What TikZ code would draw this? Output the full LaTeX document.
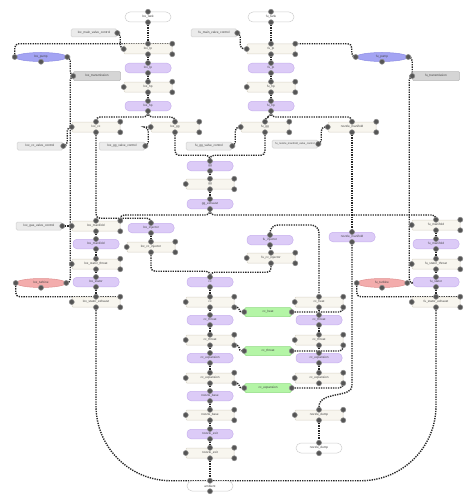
\documentclass[tikz,border=0pt]{standalone}
\usepackage{fontspec}
\setmainfont{Liberation Sans}
\usetikzlibrary{shapes.geometric,calc}
\pgfdeclarelayer{bg}
\pgfsetlayers{bg,main}
\definecolor{jfill}{HTML}{F8F6EF}
\definecolor{jdraw}{HTML}{D9D5C8}
\definecolor{pfill}{HTML}{DCCBF7}
\definecolor{pdraw}{HTML}{C7B0EE}
\definecolor{tdraw}{HTML}{CFCFCF}
\definecolor{vfill}{HTML}{EBEBEB}
\definecolor{vdraw}{HTML}{D0D0D0}
\definecolor{xfill}{HTML}{D5D5D5}
\definecolor{xdraw}{HTML}{BBBBBB}
\definecolor{pumpfill}{HTML}{A4A4F3}
\definecolor{pumpdraw}{HTML}{8C8CE4}
\definecolor{turbfill}{HTML}{F3ACAC}
\definecolor{turbdraw}{HTML}{E09090}
\definecolor{hfill}{HTML}{B4F5A6}
\definecolor{hdraw}{HTML}{90DC82}
\definecolor{portfill}{HTML}{555555}
\definecolor{portdraw}{HTML}{8A8A8A}
\tikzset{
 base/.style={inner sep=0pt, font=\fontsize{3.1}{3.5}\selectfont, text=black!75, line width=0.5pt},
 jbox/.style={base, rectangle, rounded corners=1pt, minimum width=48pt, minimum height=10pt, fill=jfill, draw=jdraw},
 pbox/.style={base, rectangle, rounded corners=4pt, minimum width=46pt, minimum height=9.5pt, fill=pfill, draw=pdraw},
 tbox/.style={base, rectangle, rounded corners=5pt, minimum width=46pt, minimum height=10pt, fill=white, draw=tdraw},
 vbox/.style={base, rectangle, rounded corners=1.5pt, minimum width=46pt, minimum height=8pt, fill=vfill, draw=vdraw},
 xbox/.style={base, rectangle, rounded corners=1pt, minimum width=47pt, minimum height=9pt, fill=xfill, draw=xdraw},
 pumpbox/.style={base, ellipse, minimum width=52pt, minimum height=9pt, fill=pumpfill, draw=pumpdraw},
 turbbox/.style={base, ellipse, minimum width=50pt, minimum height=9pt, fill=turbfill, draw=turbdraw},
 hbox/.style={base, rectangle, rounded corners=1.5pt, minimum width=47pt, minimum height=9pt, fill=hfill, draw=hdraw},
 port/.style={circle, inner sep=0pt, minimum size=5pt, fill=portfill, draw=portdraw, line width=0.6pt},
 wire/.style={line width=1.4pt, dash pattern=on 1.3pt off 1.1pt, rounded corners=4pt, draw=black!85},
}
\newcommand\myports[2]{\foreach \a/\s in {#2} {\node[port] (#1-\s) at (#1.\a) {};}}
\newcommand\Jn[4]{\node[jbox] (#1) at (#2,#3) {#4};\myports{#1}{north/n,north east/ne,west/w,south/s,south east/se}}
\newcommand\Pn[4]{\node[pbox] (#1) at (#2,#3) {#4};\myports{#1}{north/n,south/s}}
\newcommand\Tn[4]{\node[tbox] (#1) at (#2,#3) {#4};\myports{#1}{north/n,south/s}}
\newcommand\Vn[4]{\node[vbox] (#1) at (#2,#3) {#4};\myports{#1}{east/e}}
\newcommand\Xn[4]{\node[xbox] (#1) at (#2,#3) {#4};\myports{#1}{west/w}}
\newcommand\Hn[4]{\node[hbox] (#1) at (#2,#3) {#4};\myports{#1}{west/w,east/e}}
\begin{document}
\begin{tikzpicture}[x=1pt,y=-1pt]
\begin{pgfonlayer}{bg}
\fill[white] (0,0) rectangle (474,503);
\end{pgfonlayer}
\useasboundingbox (0,0) rectangle (474,503);
% terminals
\Tn{loxtank}{148}{17}{lox\_tank}
\Tn{futank}{271}{17}{fu\_tank}
\Tn{ambient}{210}{486}{ambient}
\Tn{dumpout}{319}{448}{nozzle\_dump}
% valve controls
\Vn{loxmvc}{94}{33}{lox\_main\_valve\_control}
\Vn{fumvc}{214}{33}{fu\_main\_valve\_control}
\Vn{loxccvc}{40}{146}{lox\_cc\_valve\_control}
\Vn{loxggvc}{122}{146}{lox\_gg\_valve\_control}
\Vn{fuggvc}{209}{146}{fu\_gg\_valve\_control}
\node[vbox, font=\fontsize{2.6}{3}\selectfont] (funmvc) at (295,144) {fu\_nozzle\_manifold\_valve\_control};
\myports{funmvc}{east/e}
\Vn{loxgasvc}{39}{226}{lox\_gas\_valve\_control}
% transmissions
\Xn{loxtrans}{97}{76}{lox\_transmission}
\Xn{futrans}{436}{76}{fu\_transmission}
% pumps and turbines
\node[pumpbox] (loxpump) at (41,57) {lox\_pump}; \myports{loxpump}{west/w,east/e,south/s}
\node[pumpbox] (fupump) at (382,57) {fu\_pump}; \myports{fupump}{west/w,east/e,south/s}
\node[turbbox] (loxturb) at (41,283) {lox\_turbine}; \myports{loxturb}{west/w,east/e,south/s}
\node[turbbox] (futurb) at (382,283) {fu\_turbine}; \myports{futurb}{west/w,east/e,south/s}
% feed columns
\Jn{loxlpj}{148}{49}{lox\_lp}
\Pn{loxlpv}{148}{68}{lox\_lp}
\Jn{loxhpj}{148}{87}{lox\_hp}
\Pn{loxhpv}{148}{106}{lox\_hp}
\Jn{fulpj}{271}{49}{fu\_lp}
\Pn{fulpv}{271}{68}{fu\_lp}
\Jn{fuhpj}{271}{87}{fu\_hp}
\Pn{fuhpv}{271}{106}{fu\_hp}
\Jn{loxccj}{96}{127}{lox\_cc}
\Jn{loxggj}{175}{127}{lox\_gg}
\Jn{fuggj}{265}{127}{fu\_gg}
\Jn{nmj}{352}{127}{nozzle\_manifold}
% gas generator
\Pn{ggv}{210}{166}{gg}
\Jn{ggj}{210}{184}{gg}
\Pn{ggex}{210}{204}{gg\_exhaust}
% lox turbine column
\Jn{loxmanj}{96}{226}{lox\_manifold}
\Pn{loxmanv}{96}{244}{lox\_manifold}
\Jn{loxstj}{96}{264}{lox\_stator\_throat}
\Pn{loxstv}{96}{282}{lox\_stator}
\Jn{loxsej}{96}{302}{lox\_stator\_exhaust}
% fu turbine column
\Jn{fumanj}{436}{225}{fu\_manifold}
\Pn{fumanv}{436}{244}{fu\_manifold}
\Jn{fustj}{436}{264}{fu\_stator\_throat}
\Pn{fustv}{436}{282}{fu\_stator}
\Jn{fusej}{436}{302}{fu\_stator\_exhaust}
% injectors
\Pn{loxinjv}{151}{228}{lox\_injector}
\Jn{loxinjj}{151}{247}{lox\_cc\_injector}
\Pn{fuinjv}{270}{240}{fu\_injector}
\Jn{fuinjj}{271}{258}{fu\_cc\_injector}
\Pn{nmv}{352}{237}{nozzle\_manifold}
% chamber chain
\Pn{ccv}{210}{282}{cc}
\Jn{ccj}{210}{302}{cc}
\Pn{ccthv}{210}{320}{cc\_throat}
\Jn{ccthj}{210}{340}{cc\_throat}
\Pn{ccexv}{210}{358}{cc\_expansion}
\Jn{ccexj}{210}{378}{cc\_expansion}
\Pn{nbv}{210}{396}{nozzle\_base}
\Jn{nbj}{210}{415}{nozzle\_base}
\Pn{nev}{210}{434}{nozzle\_exit}
\Jn{nej}{210}{453}{nozzle\_exit}
% cooling chain
\Jn{rcja}{319}{302}{cc\_heat}
\Pn{rcva}{319}{320}{cc\_throat}
\Jn{rcjb}{319}{340}{cc\_throat}
\Pn{rcvb}{319}{358}{cc\_expansion}
\Jn{rcjc}{319}{378}{cc\_expansion}
\Jn{ndj}{319}{415}{nozzle\_dump}
% heat links
\Hn{ha}{268}{312}{cc\_heat}
\Hn{hb}{268}{351}{cc\_throat}
\Hn{hc}{268}{388}{cc\_expansion}
\begin{pgfonlayer}{bg}
\draw[wire] (loxtank-s) -- (loxlpj-n);
\draw[wire] (futank-s) -- (fulpj-n);
\draw[wire] (loxmvc-e) -- ++(3,0) |- (loxlpj-w);
\draw[wire] (fumvc-e) -- ++(3,0) |- (fulpj-w);
\draw[wire] (loxpump-w) |- (loxlpj-ne);
\draw[wire] (fupump-w) -- ++(-4,0) |- (fulpj-ne);
\draw[wire] (loxpump-e) -- ++(3,0) |- (loxtrans-w);
\draw[wire] (loxtrans-w) -- ++(-3,0) |- (loxturb-e);
\draw[wire] (fupump-e) -- ++(4,0) |- (futrans-w);
\draw[wire] (futrans-w) -- ++(-3,0) |- (futurb-e);
\foreach \u/\v in {loxlpj/loxlpv,loxlpv/loxhpj,loxhpj/loxhpv,fulpj/fulpv,fulpv/fuhpj,fuhpj/fuhpv,
  ggv/ggj,ggj/ggex,loxmanj/loxmanv,loxmanv/loxstj,loxstj/loxstv,loxstv/loxsej,
  fumanj/fumanv,fumanv/fustj,fustj/fustv,fustv/fusej,loxinjv/loxinjj,fuinjv/fuinjj,
  ccv/ccj,ccj/ccthv,ccthv/ccthj,ccthj/ccexv,ccexv/ccexj,ccexj/nbv,nbv/nbj,nbj/nev,nev/nej,nej/ambient,
  rcja/rcva,rcva/rcjb,rcjb/rcvb,rcvb/rcjc,nmj/nmv,ndj/dumpout}
  {\draw[wire] (\u-s) -- (\v-n);}
\draw[wire] (loxhpv-s) -- ++(0,6) -| (loxccj-n);
\draw[wire] (loxhpv-s) -- ++(0,6) -| (loxggj-n);
\draw[wire] (fuhpv-s) -- ++(0,6) -| (fuggj-n);
\draw[wire] (fuhpv-s) -- ++(0,6) -| (nmj-n);
\draw[wire] (loxccvc-e) -- ++(4,0) |- (loxccj-w);
\draw[wire] (loxggvc-e) -- ++(3,0) |- (loxggj-w);
\draw[wire] (fuggvc-e) -- ++(3,0) |- (fuggj-w);
\draw[wire] (funmvc-e) -- ++(3,0) |- (nmj-w);
\draw[wire] (loxggj-s) -- ++(0,23) -| (ggv-n);
\draw[wire] (fuggj-s) -- ++(0,23) -| (ggv-n);
\draw[wire] (ggex-s) -- ++(0,6) -| (loxmanj-ne);
\draw[wire] (ggex-s) -- ++(0,6) -| (fumanj-n);
\draw[wire] (loxccj-s) -- ++(0,86) -| (loxinjv-n);
\draw[wire] (loxgasvc-e) -- (loxmanj-w);
\draw[wire] (loxturb-w) |- (loxsej-ne);
\draw[wire] (futurb-w) |- (fusej-ne);
\draw[wire, rounded corners=75pt] (loxsej-s) |- (ambient-n);
\draw[wire, rounded corners=75pt] (fusej-s) |- (ambient-n);
\draw[wire] (loxinjj-s) -- ++(0,19) -| (ccv-n);
\draw[wire] (fuinjj-s) -- ++(0,9) -| (ccv-n);
\draw[wire, rounded corners=8pt] (fuinjv-n) -- ++(0,-10) -| (rcja-n);
\draw[wire] (nmv-s) -- ++(0,140) to[out=-90,in=90] (ndj-n);
\draw[wire] (ccj-se) to[out=0,in=180] (ha-w);
\draw[wire] (ccthj-se) to[out=0,in=180] (hb-w);
\draw[wire] (ccexj-se) to[out=0,in=180] (hc-w);
\draw[wire] (ha-e) -| (rcja-se);
\draw[wire] (hb-e) -| (rcjb-se);
\draw[wire] (hc-e) -| (rcjc-se);
\end{pgfonlayer}
\end{tikzpicture}
\end{document}
